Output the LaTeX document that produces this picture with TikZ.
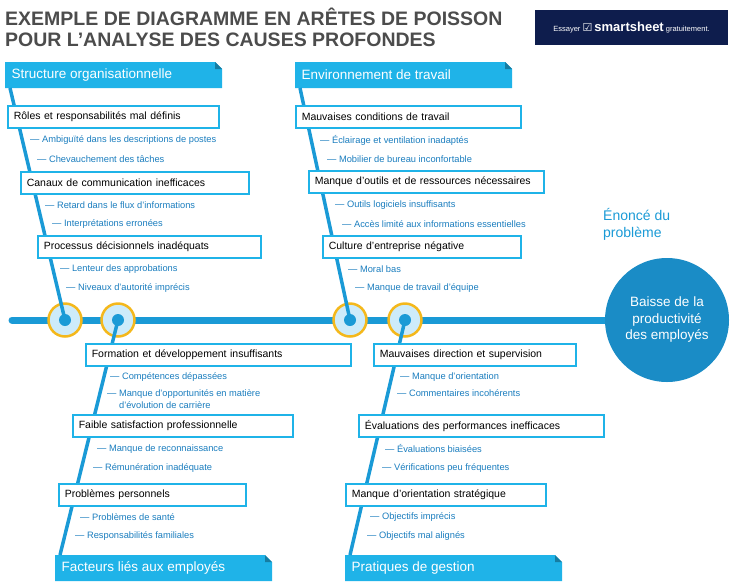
\documentclass[tikz,border=0pt]{standalone}
\usepackage{fontspec}
\setmainfont{Liberation Sans}
\newfontfamily\dejavu{DejaVu Sans}
\begin{document}
\begin{tikzpicture}[x=1pt,y=-1pt,
  bone/.style={draw=boneblue,line width=3.5pt},
  cause/.style={draw=cyanb,line width=1.6pt,fill=white,anchor=north west,minimum height=22pt,inner xsep=6pt,font=\fontsize{10.5}{12}\selectfont,text=black,align=left},
  sub/.style={anchor=west,font=\fontsize{9.3}{11.5}\selectfont,text=subblue,inner sep=0pt,align=left},
  joint/.style={circle,draw=jyellow,line width=2.5pt,fill=jfill,minimum size=33pt,inner sep=0pt},
  dot/.style={circle,fill=boneblue,minimum size=12pt,inner sep=0pt},
  head/.style={font=\fontsize{13.5}{15}\selectfont,text=white,anchor=west}]
\definecolor{boneblue}{HTML}{1A9AD6}
\definecolor{cyanb}{HTML}{1FB3E8}
\definecolor{subblue}{HTML}{1A7DBE}
\definecolor{jyellow}{HTML}{F4B81C}
\definecolor{jfill}{HTML}{CDEBFA}
\definecolor{headc}{HTML}{1A8CC6}
\definecolor{navy}{HTML}{0E1D4D}
\useasboundingbox (0,0) rectangle (733,584);
% title
\node[anchor=west,font=\bfseries\fontsize{19.5}{22}\selectfont,text=black!70,inner sep=0pt] (t1) at (5,17) {EXEMPLE DE DIAGRAMME EN ARÊTES DE POISSON};
\node[anchor=west,font=\bfseries\fontsize{19.5}{22}\selectfont,text=black!70,inner sep=0pt] (t2) at (5,40) {POUR L’ANALYSE DES CAUSES PROFONDES};
\fill[navy] (535,10) rectangle (728,45);
\node[text=white,font=\fontsize{7.5}{8}\selectfont,inner sep=0pt] (logo) at (631.5,27.5) {Essayer {\dejavu\fontsize{11}{12}\selectfont ☑} {\fontsize{13}{14}\selectfont\bfseries smartsheet} gratuitement.};
% spine
\draw[boneblue,line width=7pt,line cap=round] (12,320) -- (620,320);
\node[circle,fill=headc,minimum size=124pt,inner sep=0pt,align=center,text=white,font=\fontsize{13.5}{16.5}\selectfont] (prob) at (667,320) {Baisse de la\\productivité\\des employés};
\node[anchor=north west,align=left,text=boneblue,font=\fontsize{14}{17}\selectfont,inner sep=0pt] (enonce) at (603,208) {Énoncé du\\problème};
% headers
\newcommand{\hdr}[4]{%
 \fill[cyanb] (#1,#2) -- (#1+210,#2) -- (#1+217,#2+7) -- (#1+217,#2+26) -- (#1,#2+26) -- cycle;
 \fill[cyanb!70!black] (#1+210,#2) -- (#1+217,#2+7) -- (#1+210,#2+7) -- cycle;
 \node[head] (#4) at (#1+3,#2+13) {#3};
 \coordinate (#4top) at (#1+5,#2);
 \coordinate (#4bot) at (#1+5,#2+26);}
\hdr{5}{62}{Structure organisationnelle}{h1}
\hdr{295}{62}{Environnement de travail}{h2}
\hdr{55}{555}{Facteurs liés aux employés}{h3}
\hdr{345}{555}{Pratiques de gestion}{h4}
% joints
\node[joint] (j1) at (65,320) {};
\node[joint] (j2) at (118,320) {};
\node[joint] (j3) at (350,320) {};
\node[joint] (j4) at (405,320) {};
% bones
\draw[bone] (h1bot) -- (j1.center);
\draw[bone] (h2bot) -- (j3.center);
\draw[bone] (j2.center) -- (h3top);
\draw[bone] (j4.center) -- (h4top);
\foreach \j in {j1,j2,j3,j4} \node[dot] at (\j) {};
% causes top-left
\node[cause,text width=199pt] (c1) at (7,105) {Rôles et responsabilités mal définis};
\node[cause,text width=216pt] (c2) at (20,171) {Canaux de communication inefficaces};
\node[cause,text width=211pt] (c3) at (37,235) {Processus décisionnels inadéquats};
\node[sub] (s1) at (30,140) {— Ambiguïté dans les descriptions de postes};
\node[sub] (s2) at (37,159) {— Chevauchement des tâches};
\node[sub] (s3) at (45,205) {— Retard dans le flux d’informations};
\node[sub] (s4) at (52,224) {— Interprétations erronées};
\node[sub] (s5) at (60,269) {— Lenteur des approbations};
\node[sub] (s6) at (66,288) {— Niveaux d’autorité imprécis};
% top-right
\node[cause,text width=213pt] (c4) at (295,105) {Mauvaises conditions de travail};
\node[cause,text width=223pt] (c5) at (308,170) {Manque d’outils et de ressources nécessaires};
\node[cause,text width=186pt] (c6) at (322,235) {Culture d’entreprise négative};
\node[sub] (s7) at (320,140) {— Éclairage et ventilation inadaptés};
\node[sub] (s8) at (327,159) {— Mobilier de bureau inconfortable};
\node[sub] (s9) at (335,205) {— Outils logiciels insuffisants};
\node[sub] (s10) at (342,224) {— Accès limité aux informations essentielles};
\node[sub] (s11) at (348,269) {— Moral bas};
\node[sub] (s12) at (355,288) {— Manque de travail d’équipe};
% bottom-left
\node[cause,text width=253pt] (c7) at (85,343) {Formation et développement insuffisants};
\node[cause,text width=208pt] (c8) at (72,414) {Faible satisfaction professionnelle};
\node[cause,text width=175pt] (c9) at (58,483) {Problèmes personnels};
\node[sub] (s13) at (110,377) {— Compétences dépassées};
\node[sub] (s14) at (107,399) {— Manque d’opportunités en matière\\\phantom{— }d’évolution de carrière};
\node[sub] (s15) at (97,449) {— Manque de reconnaissance};
\node[sub] (s16) at (93,468) {— Rémunération inadéquate};
\node[sub] (s17) at (80,517) {— Problèmes de santé};
\node[sub] (s18) at (75,536) {— Responsabilités familiales};
% bottom-right
\node[cause,text width=190pt] (c10) at (373,343) {Mauvaises direction et supervision};
\node[cause,text width=233pt] (c11) at (358,414) {Évaluations des performances inefficaces};
\node[cause,text width=188pt] (c12) at (345,483) {Manque d’orientation stratégique};
\node[sub] (s19) at (400,377) {— Manque d’orientation};
\node[sub] (s20) at (397,393) {— Commentaires incohérents};
\node[sub] (s21) at (385,449) {— Évaluations biaisées};
\node[sub] (s22) at (382,468) {— Vérifications peu fréquentes};
\node[sub] (s23) at (370,517) {— Objectifs imprécis};
\node[sub] (s24) at (367,536) {— Objectifs mal alignés};
\end{tikzpicture}
\end{document}
